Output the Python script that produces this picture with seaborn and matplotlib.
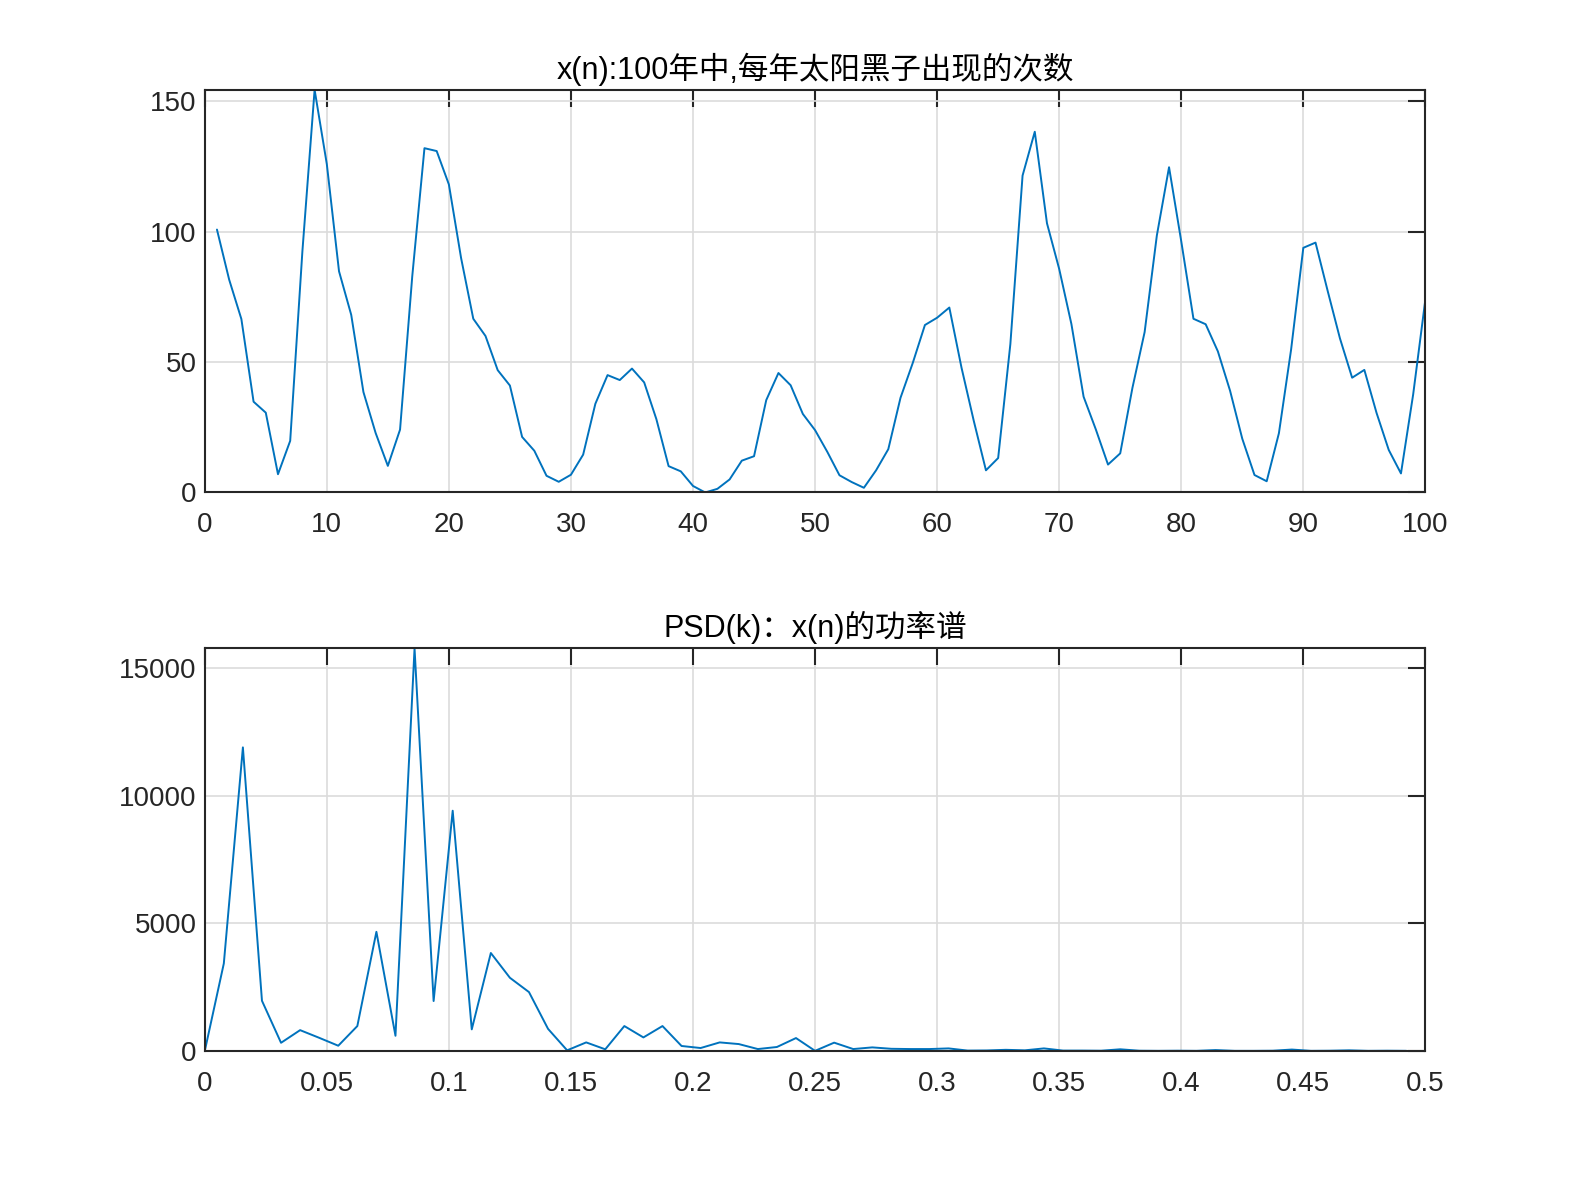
import numpy as np
import pandas as pd
import matplotlib
matplotlib.use("Agg")
import matplotlib.pyplot as plt
import seaborn as sns

# годовое число солнечных пятен, 100 лет
sunspots = [
    100.8, 81.6, 66.5, 34.8, 30.6, 7.0, 19.8, 92.5, 154.4, 125.9,
    84.8, 68.1, 38.5, 22.8, 10.2, 24.1, 82.9, 132.0, 130.9, 118.1,
    89.9, 66.6, 60.0, 46.9, 41.0, 21.3, 16.0, 6.4, 4.1, 6.8,
    14.5, 34.0, 45.0, 43.1, 47.5, 42.2, 28.1, 10.1, 8.1, 2.5,
    0.0, 1.4, 5.0, 12.2, 13.9, 35.4, 45.8, 41.1, 30.1, 23.9,
    15.6, 6.6, 4.0, 1.8, 8.5, 16.6, 36.3, 49.6, 64.2, 67.0,
    70.9, 47.8, 27.5, 8.5, 13.2, 56.9, 121.5, 138.3, 103.2, 85.7,
    64.6, 36.7, 24.2, 10.7, 15.0, 40.1, 61.5, 98.5, 124.7, 96.3,
    66.6, 64.5, 54.1, 39.0, 20.6, 6.7, 4.3, 22.7, 54.8, 93.8,
    95.8, 77.2, 59.1, 44.0, 47.0, 30.5, 16.3, 7.3, 37.6, 74.0,
]
years = list(range(1, 101))

# спектр мощности, значения (шаг 1/128)
psd = [
    0, 3430, 11890, 1970, 325, 820, 520, 210, 980, 4670,
    600, 15766, 1960, 9410, 850, 3840, 2870, 2310, 870, 30,
    340, 70, 980, 535, 980, 200, 120, 340, 275, 80,
    160, 510, 10, 330, 80, 145, 90, 80, 80, 105,
    20, 25, 50, 30, 105, 20, 20, 15, 70, 15,
    10, 15, 10, 40, 10, 10, 15, 60, 10, 15,
    30, 10, 15, 10,
]
freq = [k / 128 for k in range(len(psd))]

df_x = pd.DataFrame({"n": years, "x": sunspots})
df_psd = pd.DataFrame({"f": freq, "psd": psd})

sns.set_style("white")
plt.rcParams["font.family"] = ["Liberation Sans", "Noto Sans CJK SC", "DejaVu Sans"]
plt.rcParams["font.size"] = 20

line_color = "#0072BD"

fig = plt.figure(figsize=(15.75, 11.81), dpi=100)
ax1 = fig.add_axes([0.13, 0.583, 0.775, 0.341])
ax2 = fig.add_axes([0.13, 0.11, 0.775, 0.341])


def matlab_axes(ax):
    ax.grid(True, color="#dcdcdc", linewidth=1.2)
    ax.set_axisbelow(True)
    for sp in ax.spines.values():
        sp.set_color("#262626")
        sp.set_linewidth(1.5)
    ax.tick_params(direction="in", length=12, width=1.5, color="#262626",
                   top=True, right=True, labelsize=20, labelcolor="#262626")
    ax.tick_params(axis="x", pad=14)
    ax.tick_params(axis="y", pad=6)
    ax.set_xlabel("")
    ax.set_ylabel("")


sns.lineplot(data=df_x, x="n", y="x", ax=ax1, color=line_color, linewidth=1.4)
ax1.set_xlim(0, 100)
ax1.set_ylim(0, max(sunspots))
ax1.set_xticks(range(0, 101, 10))
ax1.set_yticks([0, 50, 100, 150])
matlab_axes(ax1)
ax1.set_title("x(n):100年中,每年太阳黑子出现的次数", fontsize=22, color="#000000", pad=8)

sns.lineplot(data=df_psd, x="f", y="psd", ax=ax2, color=line_color, linewidth=1.4)
ax2.set_xlim(0, 0.5)
ax2.set_ylim(0, max(psd))
ax2.set_xticks(np.arange(0, 0.51, 0.05))
ax2.set_xticklabels(["0", "0.05", "0.1", "0.15", "0.2", "0.25", "0.3",
                     "0.35", "0.4", "0.45", "0.5"])
ax2.set_yticks([0, 5000, 10000, 15000])
ax2.set_yticklabels(["0", "5000", "10000", "15000"])
matlab_axes(ax2)
ax2.set_title("PSD(k)：x(n)的功率谱", fontsize=22, color="#000000", pad=8)

fig.savefig("out.png", dpi=100)
